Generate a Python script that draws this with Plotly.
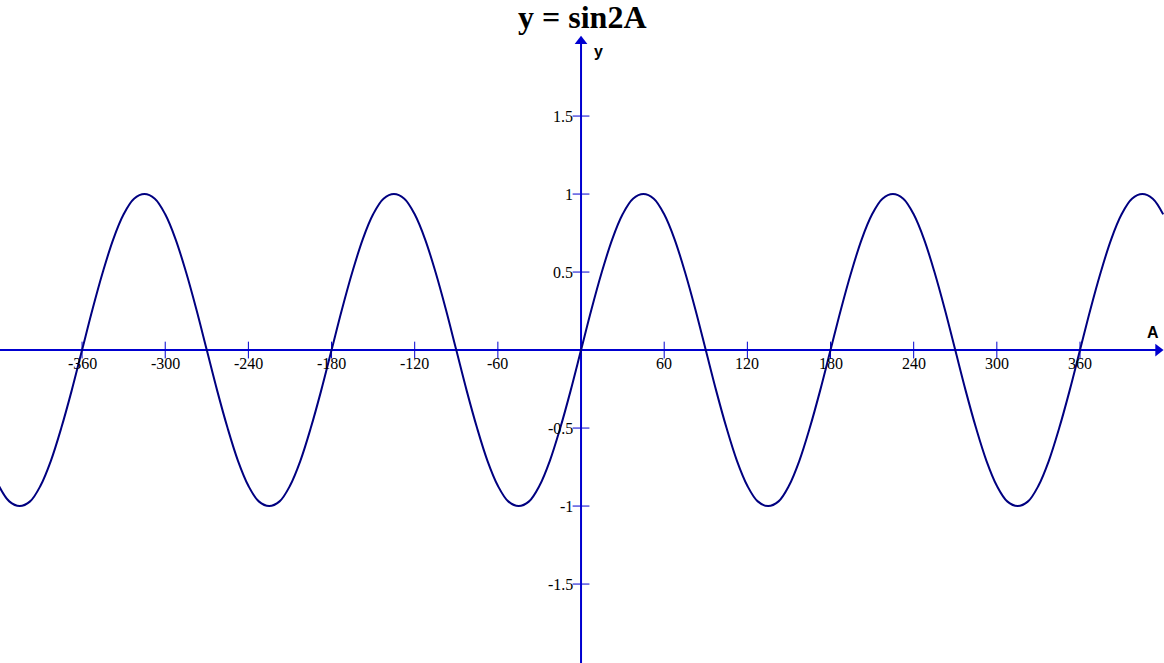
import plotly.graph_objects as go

# values of y = sin2A every 7.5 degrees
A = [-420, -412.5, -405, -397.5, -390, -382.5, -375, -367.5,
     -360, -352.5, -345, -337.5, -330, -322.5, -315, -307.5,
     -300, -292.5, -285, -277.5, -270, -262.5, -255, -247.5,
     -240, -232.5, -225, -217.5, -210, -202.5, -195, -187.5,
     -180, -172.5, -165, -157.5, -150, -142.5, -135, -127.5,
     -120, -112.5, -105, -97.5, -90, -82.5, -75, -67.5,
     -60, -52.5, -45, -37.5, -30, -22.5, -15, -7.5,
     0, 7.5, 15, 22.5, 30, 37.5, 45, 52.5,
     60, 67.5, 75, 82.5, 90, 97.5, 105, 112.5,
     120, 127.5, 135, 142.5, 150, 157.5, 165, 172.5,
     180, 187.5, 195, 202.5, 210, 217.5, 225, 232.5,
     240, 247.5, 255, 262.5, 270, 277.5, 285, 292.5,
     300, 307.5, 315, 322.5, 330, 337.5, 345, 352.5,
     360, 367.5, 375, 382.5, 390, 397.5, 405, 412.5,
     420]
y = [-0.87, -0.97, -1, -0.97, -0.87, -0.71, -0.5, -0.26,
     0, 0.26, 0.5, 0.71, 0.87, 0.97, 1, 0.97,
     0.87, 0.71, 0.5, 0.26, 0, -0.26, -0.5, -0.71,
     -0.87, -0.97, -1, -0.97, -0.87, -0.71, -0.5, -0.26,
     0, 0.26, 0.5, 0.71, 0.87, 0.97, 1, 0.97,
     0.87, 0.71, 0.5, 0.26, 0, -0.26, -0.5, -0.71,
     -0.87, -0.97, -1, -0.97, -0.87, -0.71, -0.5, -0.26,
     0, 0.26, 0.5, 0.71, 0.87, 0.97, 1, 0.97,
     0.87, 0.71, 0.5, 0.26, 0, -0.26, -0.5, -0.71,
     -0.87, -0.97, -1, -0.97, -0.87, -0.71, -0.5, -0.26,
     0, 0.26, 0.5, 0.71, 0.87, 0.97, 1, 0.97,
     0.87, 0.71, 0.5, 0.26, 0, -0.26, -0.5, -0.71,
     -0.87, -0.97, -1, -0.97, -0.87, -0.71, -0.5, -0.26,
     0, 0.26, 0.5, 0.71, 0.87, 0.97, 1, 0.97,
     0.87]

x_ticks = [-360, -300, -240, -180, -120, -60, 60, 120, 180, 240, 300, 360]
y_ticks = [-1.5, -1, -0.5, 0.5, 1, 1.5]

x_range = [-419.2, 420.6]
y_range = [-2.006, 2.244]
x_tip = 416.3
y_tip = 1.98

AXIS = "#0000D0"
CURVE = "#000080"
SERIF = "Liberation Serif"

fig = go.Figure()

# axes
fig.add_shape(type="line", x0=x_range[0], x1=x_tip, y0=0, y1=0,
              line=dict(color=AXIS, width=2), layer="below")
fig.add_shape(type="line", x0=0, x1=0, y0=y_range[0], y1=y_tip,
              line=dict(color=AXIS, width=2), layer="below")

# tick marks
fig.add_trace(go.Scatter(x=x_ticks, y=[0] * len(x_ticks), mode="markers",
                         marker=dict(symbol="line-ns-open", size=12, color=AXIS,
                                     line=dict(color=AXIS, width=1)),
                         hoverinfo="skip"))
fig.add_trace(go.Scatter(x=[0] * len(y_ticks), y=y_ticks, mode="markers",
                         marker=dict(symbol="line-ew-open", size=12, color=AXIS,
                                     line=dict(color=AXIS, width=1)),
                         hoverinfo="skip"))

# arrow heads
fig.add_trace(go.Scatter(x=[x_tip], y=[0], mode="markers",
                         marker=dict(symbol="triangle-right", size=11, color=AXIS),
                         hoverinfo="skip"))
fig.add_trace(go.Scatter(x=[0], y=[y_tip], mode="markers",
                         marker=dict(symbol="triangle-up", size=11, color=AXIS),
                         hoverinfo="skip"))

# curve
fig.add_trace(go.Scatter(x=A, y=y, mode="lines", line_shape="spline",
                         line=dict(color=CURVE, width=2), hoverinfo="skip"))

for t in x_ticks:
    fig.add_annotation(x=t, y=0, text=str(t), showarrow=False, yshift=-13,
                       font=dict(family=SERIF, size=16, color="black"))
for t in y_ticks:
    fig.add_annotation(x=0, y=t, text=f"{t:g}", showarrow=False, xanchor="right",
                       xshift=-6, font=dict(family=SERIF, size=16, color="black"))

fig.add_annotation(x=x_tip, y=0, text="<b>A</b>", showarrow=False, xshift=-5,
                   yshift=18, font=dict(family="Liberation Sans", size=16, color="black"))
fig.add_annotation(x=0, y=y_tip, text="<b>y</b>", showarrow=False, xshift=17,
                   yshift=-10, font=dict(family="Liberation Sans", size=16, color="black"))
fig.add_annotation(x=0.5, y=1, xref="paper", yref="paper", yanchor="top", yshift=3,
                   text="<b>y = sin2A</b>", showarrow=False,
                   font=dict(family=SERIF, size=32, color="black"))

fig.update_xaxes(range=x_range, visible=False)
fig.update_yaxes(range=y_range, visible=False)
fig.update_layout(width=1164, height=663, margin=dict(l=0, r=0, t=0, b=0),
                  plot_bgcolor="white", paper_bgcolor="white", showlegend=False)

fig.write_html("out.html", config={"displayModeBar": False},
               post_script="document.body.style.margin='0';document.body.style.overflow='hidden';")
